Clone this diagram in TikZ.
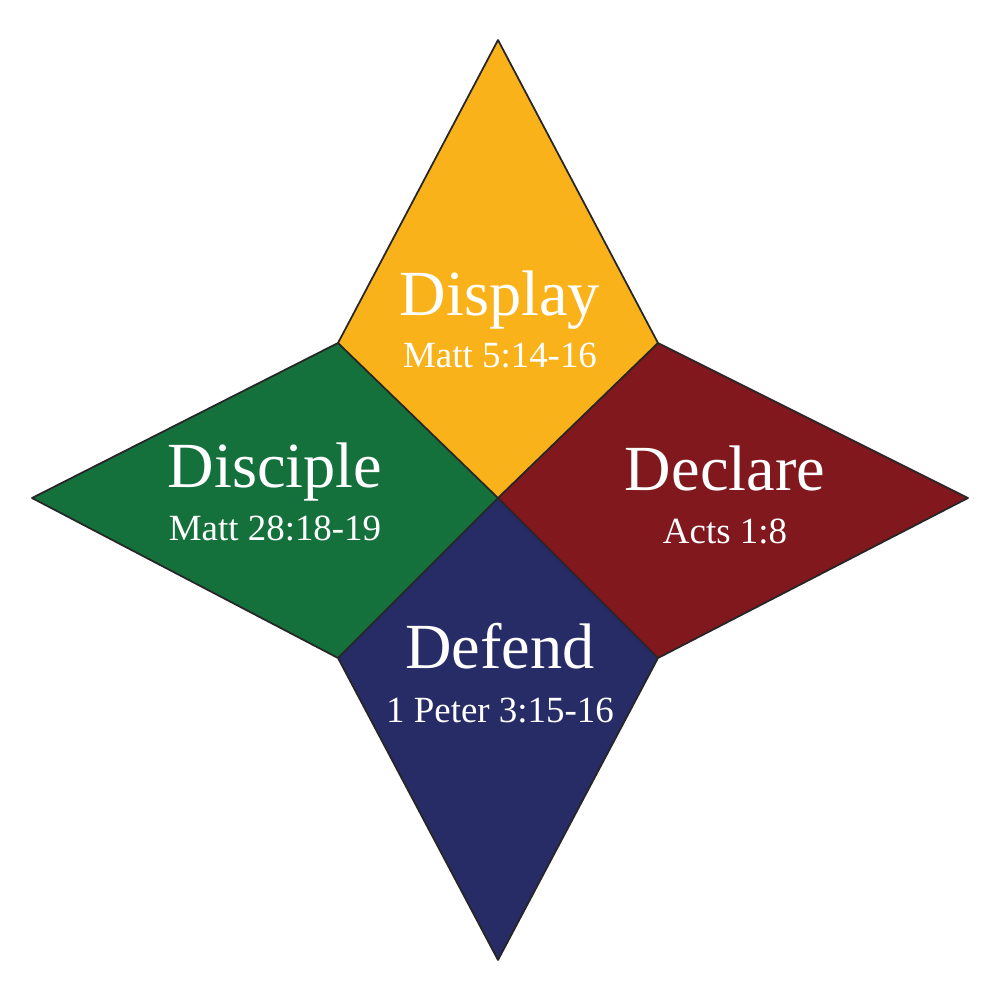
\documentclass[tikz,border=0pt]{standalone}
\usepackage{fontspec}
\setmainfont{Liberation Serif}
\definecolor{cyellow}{HTML}{F9B21A}
\definecolor{cgreen}{HTML}{15713C}
\definecolor{cred}{HTML}{80181D}
\definecolor{cblue}{HTML}{272B66}
\begin{document}
\begin{tikzpicture}[x=0.01cm,y=-0.01cm,
  kite/.style={draw=black!85,line width=0.5pt,line join=round},
  title/.style={text=white,anchor=base,font=\fontsize{18.3}{20}\selectfont,inner sep=0pt},
  ref/.style={text=white,anchor=base,font=\fontsize{10.5}{12}\selectfont,inner sep=0pt}]
\useasboundingbox (0,0) rectangle (1000,1000);
\coordinate (c) at (498,498);
\coordinate (t) at (498,40);
\coordinate (b) at (498,960);
\coordinate (l) at (32,498);
\coordinate (r) at (968,498);
\coordinate (ul) at (338,343);
\coordinate (ur) at (658,343);
\coordinate (ll) at (338,658);
\coordinate (lr) at (658,658);
\fill[cyellow] (c) -- (ul) -- (t) -- (ur) -- cycle;
\fill[cgreen] (c) -- (ul) -- (l) -- (ll) -- cycle;
\fill[cred] (c) -- (ur) -- (r) -- (lr) -- cycle;
\fill[cblue] (c) -- (ll) -- (b) -- (lr) -- cycle;
\draw[kite] (t) -- (ur) -- (r) -- (lr) -- (b) -- (ll) -- (l) -- (ul) -- cycle;
\draw[kite] (ul) -- (c) -- (lr);
\draw[kite] (ur) -- (c) -- (ll);
\node[title] (d1) at (500,315) {Display};
\node[ref] (r1) at (500,367) {Matt 5:14-16};
\node[title] (d2) at (275,487) {Disciple};
\node[ref] (r2) at (275,540) {Matt 28:18-19};
\node[title] (d3) at (725,490) {Declare};
\node[ref] (r3) at (725,543) {Acts 1:8};
\node[title] (d4) at (500,668) {Defend};
\node[ref] (r4) at (500,722) {1 Peter 3:15-16};
\end{tikzpicture}
\end{document}
